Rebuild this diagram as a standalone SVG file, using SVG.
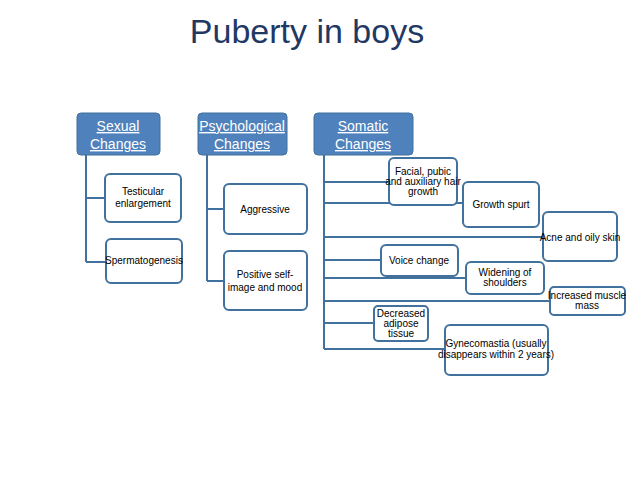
<svg xmlns="http://www.w3.org/2000/svg" width="638" height="478" viewBox="0 0 638 478">
<style>
.h{fill:#4F81BD;stroke:#41719C;stroke-width:1}
.b{fill:#fff;stroke:#41719C;stroke-width:2}
.ht{fill:#fff;font-family:"Liberation Sans",sans-serif;font-size:14px;text-anchor:middle;text-decoration:underline}
.t{fill:#000;font-family:"Liberation Sans",sans-serif;font-size:10px;text-anchor:middle}
.c{stroke:#41719C;stroke-width:2;fill:none}
</style>
<rect width="638" height="478" fill="#fff"/>
<text x="307" y="43" font-family="Liberation Sans,sans-serif" font-size="34" fill="#1F3864" text-anchor="middle">Puberty in boys</text>
<g id="connectors">
<path class="c" d="M86 155V262M86 198H105M86 262H106"/>
<path class="c" d="M207 155V281M207 209H224M207 281H224"/>
<path class="c" d="M324 155V349M324 182H389M324 203H463M324 237H543M324 260H381M324 278H466M324 301H550M324 323H374M324 349H445"/>
</g>
<g id="sexual"><rect class="h" x="77" y="113" width="83" height="42" rx="4"/><text class="ht" x="118" y="131">Sexual</text><text class="ht" x="118" y="149">Changes</text></g>
<g id="psych"><rect class="h" x="198" y="113" width="89" height="42" rx="4"/><text class="ht" x="242" y="131">Psychological</text><text class="ht" x="242" y="149">Changes</text></g>
<g id="somatic"><rect class="h" x="314" y="113" width="99" height="42" rx="4"/><text class="ht" x="363" y="131">Somatic</text><text class="ht" x="363" y="149">Changes</text></g>
<g id="testicular"><rect class="b" x="105" y="174" width="76" height="48" rx="5"/><text class="t" x="143" y="195">Testicular</text><text class="t" x="143" y="207">enlargement</text></g>
<g id="spermato"><rect class="b" x="106" y="239" width="76" height="44" rx="5"/><text class="t" x="144" y="264" font-size="7">Spermatogenesis</text></g>
<g id="aggressive"><rect class="b" x="224" y="184" width="83" height="50" rx="5"/><text class="t" x="265" y="213" font-size="11">Aggressive</text></g>
<g id="positive"><rect class="b" x="224" y="251" width="83" height="59" rx="5"/><text class="t" x="265" y="278" font-size="11">Positive self-</text><text class="t" x="265" y="291" font-size="11">image and mood</text></g>
<g id="facial"><rect class="b" x="389" y="158" width="68" height="47" rx="5"/><text class="t" x="423" y="175" font-size="8">Facial,  pubic</text><text class="t" x="423" y="185" font-size="8">and auxiliary hair</text><text class="t" x="423" y="195" font-size="8">growth</text></g>
<g id="growth"><rect class="b" x="463" y="182" width="76" height="45" rx="5"/><text class="t" x="501" y="208" font-size="8">Growth spurt</text></g>
<g id="acne"><rect class="b" x="543" y="212" width="74" height="49" rx="5"/><text class="t" x="580" y="241" font-size="8">Acne and oily skin</text></g>
<g id="voice"><rect class="b" x="381" y="245" width="77" height="31" rx="5"/><text class="t" x="419" y="264" font-size="8">Voice change</text></g>
<g id="widening"><rect class="b" x="466" y="262" width="78" height="32" rx="5"/><text class="t" x="505" y="276" font-size="8">Widening of</text><text class="t" x="505" y="286" font-size="8">shoulders</text></g>
<g id="muscle"><rect class="b" x="550" y="287" width="75" height="28" rx="4"/><text class="t" x="587" y="299" font-size="8">Increased muscle</text><text class="t" x="587" y="309" font-size="8">mass</text></g>
<g id="adipose"><rect class="b" x="374" y="306" width="54" height="35" rx="4"/><text class="t" x="401" y="317" font-size="8">Decreased</text><text class="t" x="401" y="327" font-size="8">adipose</text><text class="t" x="401" y="337" font-size="8">tissue</text></g>
<g id="gyneco"><rect class="b" x="445" y="325" width="103" height="50" rx="5"/><text class="t" x="496" y="347" font-size="8">Gynecomastia (usually</text><text class="t" x="496" y="358" font-size="8">disappears within 2 years)</text></g>
</svg>
